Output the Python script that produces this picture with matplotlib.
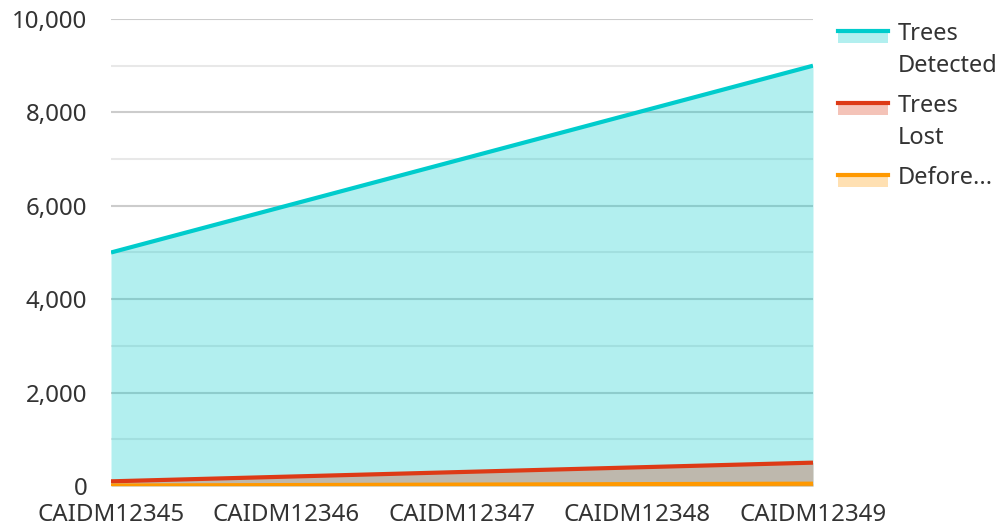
import numpy as np
import matplotlib.pyplot as plt
from matplotlib.ticker import FuncFormatter, MultipleLocator
from matplotlib.patches import Rectangle
from matplotlib.lines import Line2D

plt.rcParams['font.family'] = ['Noto Sans', 'DejaVu Sans']

# Data
sites = ['CAIDM12345', 'CAIDM12346', 'CAIDM12347', 'CAIDM12348', 'CAIDM12349']
trees_detected = [5000, 6000, 7000, 8000, 9000]
trees_lost = [100, 200, 300, 400, 500]
deforestation = [10, 20, 30, 40, 50]

series = [
    (['Trees', 'Detected'], trees_detected, '#00CCCC'),
    (['Trees', 'Lost'], trees_lost, '#DD3A16'),
    (['Defore...'], deforestation, '#FF9900'),
]

W, H = 1005, 528
fig = plt.figure(figsize=(W / 100, H / 100), dpi=100)
ax = fig.add_axes([111 / W, (H - 486) / H, (813 - 111) / W, (486 - 19) / H])

x = np.arange(len(sites))
for name, vals, lc in series:
    ax.fill_between(x, 0, vals, color=lc, alpha=0.3, linewidth=0, zorder=2)
    ax.plot(x, vals, color=lc, linewidth=3, zorder=3, solid_capstyle='butt')

ax.set_xlim(0, len(sites) - 1)
ax.set_ylim(0, 10000)
ax.yaxis.set_major_locator(MultipleLocator(2000))
ax.yaxis.set_minor_locator(MultipleLocator(1000))
ax.yaxis.set_major_formatter(FuncFormatter(lambda v, p: f'{int(v):,}'))
ax.grid(True, which='major', axis='y', color='#cccccc', linewidth=1.5, zorder=1)
ax.grid(True, which='minor', axis='y', color='#e8e8e8', linewidth=1.5, zorder=1)
ax.set_axisbelow(True)
ax.set_xticks(x)
ax.set_xticklabels(sites)
ax.tick_params(axis='both', which='both', length=0, labelsize=17.3, colors='#333333')
ax.tick_params(axis='x', pad=12)
ax.tick_params(axis='y', pad=17)
for s in ax.spines.values():
    s.set_visible(False)

# legend drawn by hand: line on top, light fill under it, wrapped labels
line_y = [31, 103, 175]
for (name, vals, lc), ly in zip(series, line_y):
    fig.patches.append(Rectangle((838 / W, 1 - (ly + 12) / H), 50 / W, 10 / H,
                                 transform=fig.transFigure, facecolor=lc,
                                 alpha=0.3, edgecolor='none'))
    fig.lines.append(Line2D([838 / W, 888 / W], [1 - ly / H] * 2,
                            transform=fig.transFigure, color=lc, linewidth=3))
    for i, part in enumerate(name):
        fig.text(898 / W, 1 - (ly + 9 + 32 * i) / H, part, fontsize=17,
                 color='#333333', va='baseline', ha='left')

fig.savefig('out.png', dpi=100)
